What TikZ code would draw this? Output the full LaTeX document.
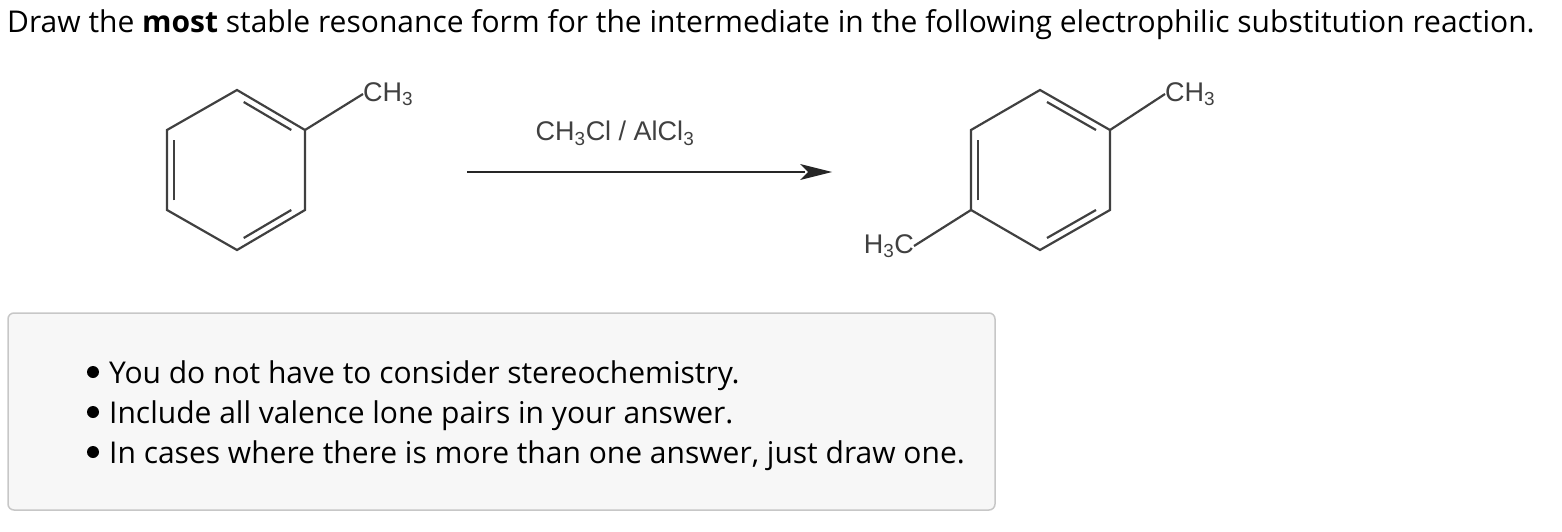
\documentclass[tikz,border=0pt]{standalone}
\usepackage{fontspec}
\usetikzlibrary{calc}
\setmainfont{Open Sans}
\newfontfamily\chem{Liberation Sans}
\begin{document}
\begin{tikzpicture}[x=1pt,y=-1pt,
  bond/.style={draw=black!75,line width=2.2pt},
  lbl/.style={font=\chem\fontsize{27}{27}\selectfont,text=black!75,inner sep=0pt},
  body/.style={font=\fontsize{30}{36}\selectfont,inner sep=0pt,anchor=base west}]
\useasboundingbox (0,0) rectangle (1562,532);
% title
\node[body] (title) at (7,33) {Draw the \textbf{most} stable resonance form for the intermediate in the following electrophilic substitution reaction.};
% left ring
\foreach \n/\x/\y in {a1/237/90,a2/305/130,a3/305/210,a4/237/250,a5/167/210,a6/167/130}{\coordinate (\n) at (\x,\y);}
\draw[bond] (a1)--(a2)--(a3)--(a4)--(a5)--(a6)--cycle;
\draw[bond] ($(a1)!0.15!(a2)+(-3.5,6)$) -- ($(a1)!0.85!(a2)+(-3.5,6)$);
\draw[bond] ($(a3)!0.15!(a4)+(-3.5,-6)$) -- ($(a3)!0.85!(a4)+(-3.5,-6)$);
\draw[bond] ($(a5)!0.12!(a6)+(7,0)$) -- ($(a5)!0.88!(a6)+(7,0)$);
\node[lbl,anchor=west] (m1) at (363,94) {CH\textsubscript{3}};
\draw[bond] (a2) -- (m1.west);
% reagent + arrow
\node[lbl] (reag) at (615,133) {CH\textsubscript{3}Cl / AlCl\textsubscript{3}};
\coordinate (s) at (467,172); \coordinate (e) at (832,172);
\draw[line width=2.2pt,draw=black!85] (s) -- (805,172);
\fill[black!85] (e) -- (800,164) -- (808,172) -- (800,180) -- cycle;
% right ring
\foreach \n/\x/\y in {b1/1040/90,b2/1110/130,b3/1110/210,b4/1040/250,b5/971/210,b6/971/130}{\coordinate (\n) at (\x,\y);}
\draw[bond] (b1)--(b2)--(b3)--(b4)--(b5)--(b6)--cycle;
\draw[bond] ($(b1)!0.15!(b2)+(-3.5,6)$) -- ($(b1)!0.85!(b2)+(-3.5,6)$);
\draw[bond] ($(b3)!0.15!(b4)+(-3.5,-6)$) -- ($(b3)!0.85!(b4)+(-3.5,-6)$);
\draw[bond] ($(b5)!0.12!(b6)+(7,0)$) -- ($(b5)!0.88!(b6)+(7,0)$);
\node[lbl,anchor=west] (m2) at (1165,94) {CH\textsubscript{3}};
\draw[bond] (b2) -- (m2.west);
\node[lbl,anchor=east] (m3) at (914,246) {H\textsubscript{3}C};
\draw[bond] (b5) -- (m3.east);
% box
\draw[draw=black!22,fill=black!3,rounded corners=6pt,line width=1.5pt] (8,313) rectangle (995,510);
\foreach \t/\yy [count=\i] in {You do not have to consider stereochemistry./383,Include all valence lone pairs in your answer./423,{In cases where there is more than one answer, just draw one.}/463}{
  \fill (93,\yy-11) circle (6);
  \node[body] (l\i) at (109,\yy) {\t};
}
\end{tikzpicture}
\end{document}
